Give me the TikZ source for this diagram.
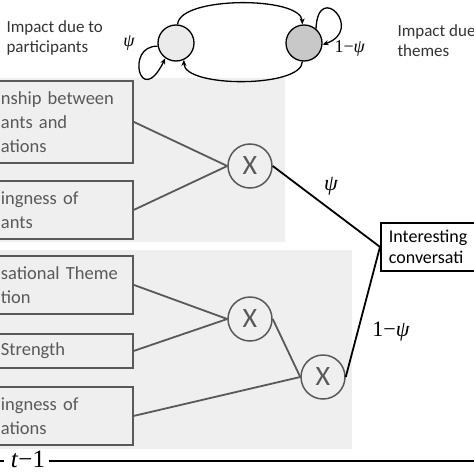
\documentclass[tikz,border=0pt]{standalone}
\usepackage{fontspec}
\setmainfont{Carlito}
\newfontfamily\grk{Liberation Serif}
\usetikzlibrary{arrows.meta}
\definecolor{panelgray}{HTML}{EFEFEF}
\definecolor{linegray}{HTML}{595959}
\definecolor{txtgray}{HTML}{595959}
\definecolor{lightc}{HTML}{EBEBEB}
\definecolor{darkc}{HTML}{C8C8C8}
\newcommand{\psisym}{{\grk\itshape ψ}}
\tikzset{
  fbox/.style={draw=linegray, line width=1.8pt, fill=panelgray, text=txtgray,
    anchor=north west, inner xsep=5pt, inner ysep=0pt, align=left, text width=127pt,
    font=\fontsize{18.5}{24}\selectfont},
  xnode/.style={circle, draw=linegray, line width=1.5pt, fill=panelgray, minimum size=44pt,
    inner sep=0pt, text=txtgray, font=\fontsize{28}{28}\selectfont},
  gline/.style={draw=linegray, line width=1.8pt},
  bline/.style={draw=black, line width=1.8pt},
  state/.style={circle, draw=black, line width=1.3pt, minimum size=36pt, inner sep=0pt},
  arc/.style={draw=black, line width=1.3pt, -{Stealth[length=6pt,width=5pt]}},
  toptext/.style={text=black!80, align=left, anchor=west, font=\fontsize{17}{20}\selectfont},
  mathlab/.style={font=\fontsize{22}{22}\grk\selectfont},
}
\begin{document}
\begin{tikzpicture}[x=1pt,y=-1pt]
\useasboundingbox (0,0) rectangle (474,474);
\clip (0,0) rectangle (474,474);
% panels
\fill[panelgray] (-5,78) rectangle (285,242);
\fill[panelgray] (-5,250) rectangle (352,449);
% top states
\node[state, fill=lightc] (L) at (176,43) {};
\node[state, fill=darkc] (R) at (304,43) {};
\node[toptext] (tp) at (3,38) {Impact due to\\participants};
\node[toptext] (tt) at (394,41) {Impact due\\themes};
\draw[arc] (L.85) .. controls (179,-4) and (301,-4) .. (R.95);
\draw[arc] (R.265) .. controls (302,88) and (184,88) .. (L.295);
\draw[arc] (L.190) .. controls (125,45) and (140,110) .. (L.235);
\draw[arc] (R.50) .. controls (318,-20) and (365,30) .. (R.355);
\node[mathlab, font=\fontsize{18}{18}\grk\selectfont] (psitop) at (129,43) {\psisym};
\node[mathlab, font=\fontsize{18}{18}\grk\selectfont, anchor=west] (omptop) at (331,48) {1−\psisym};
% boxes
\node[fbox, minimum height=82pt] (b1) at (-5,80) {nship between\\ants and\\ations};
\node[fbox, minimum height=58pt] (b2) at (-5,180) {ingness of\\ants};
\node[fbox, minimum height=58pt] (b3) at (-5,255) {sational Theme\\tion};
\node[fbox, minimum height=34pt] (b4) at (-5,333) {Strength};
\node[fbox, minimum height=58pt] (b5) at (-5,386) {ingness of\\ations};
% X nodes
\node[xnode] (x1) at (250,166) {X};
\node[xnode] (x2) at (250,319) {X};
\node[xnode] (x3) at (323,377) {X};
% output box
\node[draw=black, line width=1.8pt, fill=white, anchor=north west,
  minimum height=48pt, align=left, text width=100pt, inner xsep=8pt, inner ysep=0pt,
  font=\fontsize{18}{20.5}\selectfont] (out) at (380,222) {Interesting\\conversati};
% connectors
\draw[gline] (b1.east) -- (x1.west);
\draw[gline] (b2.east) -- (x1.west);
\draw[gline] (b3.east) -- (x2.west);
\draw[gline] (b4.east) -- (x2.west);
\draw[gline] (x2.east) -- (x3.west);
\draw[gline] (b5.east) -- (x3.west);
\draw[bline] (x1.east) -- (out.west);
\draw[bline] (x3.east) -- (out.west);
\node[mathlab] (psi) at (331,186) {\psisym};
\node[mathlab] (omp) at (391,332) {1−\psisym};
% time axis
\node[mathlab, font=\fontsize{25}{25}\grk\selectfont] (t) at (28,459) {\textit{t}−1};
\coordinate (tend) at (476,461);
\coordinate (tstart) at (-2,461);
\coordinate (tdash) at (4,461);
\draw[line width=1.2pt] (t.east |- tend) -- (tend);
\draw[line width=1.2pt] (tstart) -- (tdash);
\end{tikzpicture}
\end{document}
